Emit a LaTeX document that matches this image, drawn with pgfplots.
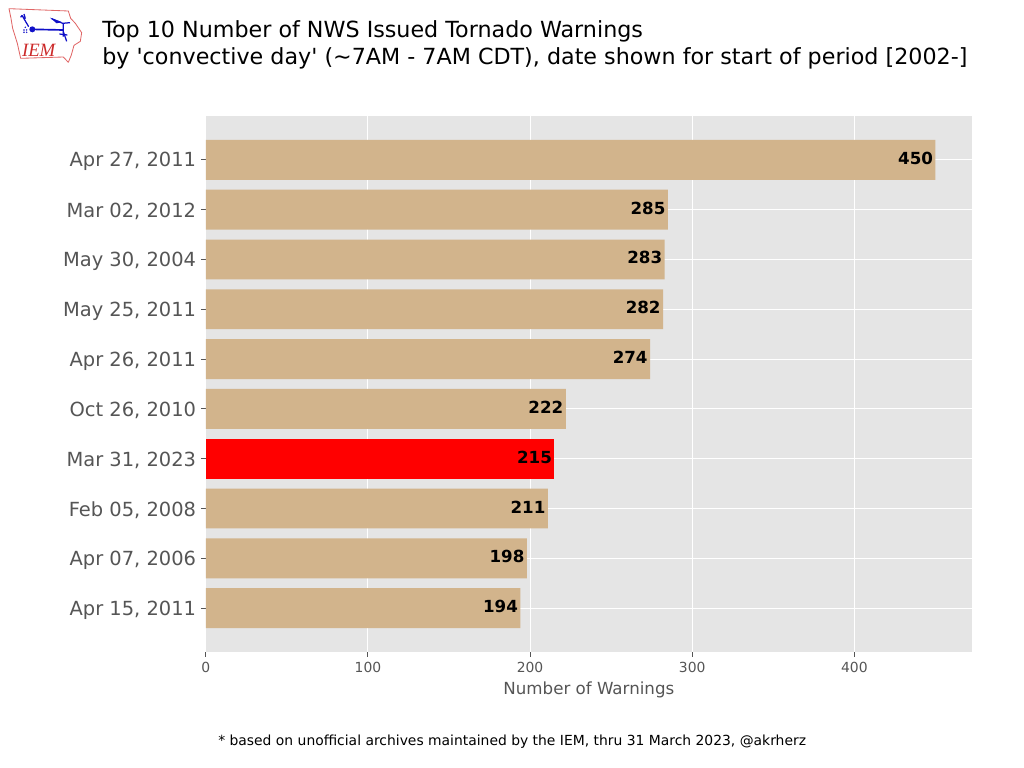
\documentclass[border=0pt]{standalone}
\usepackage{fontspec}
\setmainfont{DejaVu Sans}
\newfontfamily\titlefont{DejaVu Sans}
\newfontfamily\logofont{Liberation Serif}
\usepackage{pgfplots}
\usepackage{pgfplotstable}
\pgfplotsset{compat=1.18}
\definecolor{tanbar}{HTML}{D2B48C}
\definecolor{panel}{HTML}{E5E5E5}
\definecolor{ticktext}{HTML}{555555}
\definecolor{logored}{HTML}{E06666}
\definecolor{logotext}{HTML}{CC2A2A}
\definecolor{logoblue}{HTML}{1010C8}

% y = position from the bottom, x = warnings
\pgfplotstableread{
y x
9 450
8 285
7 283
6 282
5 274
4 222
2 211
1 198
0 194
}\tanbars
\pgfplotstableread{
y x
3 215
}\redbars

\begin{document}
% one unit = one pixel of the 1024x768 reference
\begin{tikzpicture}[x=0.72bp,y=-0.72bp]
    \path[use as bounding box] (0,0) rectangle (1024,768);
    \coordinate (corner) at (205.8,652);

    \begin{axis}[
        at={(corner)}, anchor=south west,
        scale only axis,
        width=551.6bp, height=385.92bp,
        xmin=0, xmax=472.5,
        ymin=-0.88, ymax=9.88,
        axis line style={draw=none},
        axis background/.style={fill=panel},
        grid=major,
        grid style={white, line width=0.8bp},
        xtick={0,100,200,300,400},
        ytick={0,1,2,3,4,5,6,7,8,9},
        yticklabels={{Apr 15, 2011},{Apr 07, 2006},{Feb 05, 2008},{Mar 31, 2023},{Oct 26, 2010},{Apr 26, 2011},{May 25, 2011},{May 30, 2004},{Mar 02, 2012},{Apr 27, 2011}},
        tick align=outside,
        tick pos=lower,
        major tick length=3.5bp,
        tick style={ticktext, line width=0.8bp},
        /pgf/number format/assume math mode=true,
        x tick label style={font=\fontsize{10bp}{12bp}\selectfont, text=ticktext},
        y tick label style={font=\fontsize{14bp}{16bp}\selectfont, text=ticktext, yshift=-1.4bp},
        xlabel={Number of Warnings},
        xlabel style={font=\fontsize{12bp}{14bp}\selectfont, text=ticktext},
        xbar, bar shift=0pt, bar width=0.8,
        nodes near coords,
        nodes near coords style={anchor=east, text=black, inner sep=2bp, yshift=1.2bp, xshift=0.4bp,
            font=\fontsize{12bp}{14bp}\selectfont\bfseries},
    ]
        \addplot[draw=none, fill=tanbar] table[x=x, y=y] {\tanbars};
        \addplot[draw=none, fill=red] table[x=x, y=y] {\redbars};
    \end{axis}

    % title and footer
    \node[anchor=north west, inner sep=0pt, align=left,
          font=\titlefont\fontsize{16bp}{19.4bp}\selectfont]
        at (102,20) {Top 10 Number of NWS Issued Tornado Warnings\\by 'convective day' (\char"007E 7AM - 7AM CDT), date shown for start of period [2002-]};
    \node[anchor=west, inner sep=0pt, font=\fontsize{10bp}{12bp}\selectfont]
        at (218,742) {* based on unofficial archives maintained by the IEM, thru 31 March 2023, @akrherz};

    % IEM logo
    \begin{scope}[x=0.24bp,y=-0.24bp]
        \draw[logored, line width=0.6bp, line join=round]
            (27,26) -- (205,33) -- (212,55) -- (226,70) -- (245,98) -- (241,124) -- (222,136)
            -- (214,165) -- (205,187) -- (190,171) -- (62,175) -- (52,130) -- (38,85) -- (33,55) -- cycle;
        \draw[logoblue, line width=1.2bp] (97,88) -- (190,90);
        \fill[logoblue] (97,88) circle (9);
        \draw[logoblue, line width=0.9bp] (190,68) -- (190,110) (155,56) -- (188,70) -- (210,68);
        \fill[logoblue] (150,53) -- (185,66) -- (170,70) -- cycle;
        \draw[logoblue, line width=0.9bp] (86,80) -- (66,46) (66,46) -- (62,52) (72,42) -- (76,56);
        \fill[logoblue] (72,90) circle (2.5) (80,90) circle (2.5) (76,82) circle (2.5) (72,97) circle (2.5) (80,97) circle (2.5);
        \draw[logoblue, line width=0.9bp] (190,95) -- (200,124) (178,102) -- (202,105);
        \node[anchor=center, inner sep=0pt, text=logotext,
              font=\logofont\itshape\fontsize{13.5bp}{13.5bp}\selectfont] at (116,150) {IEM};
    \end{scope}
\end{tikzpicture}
\end{document}
